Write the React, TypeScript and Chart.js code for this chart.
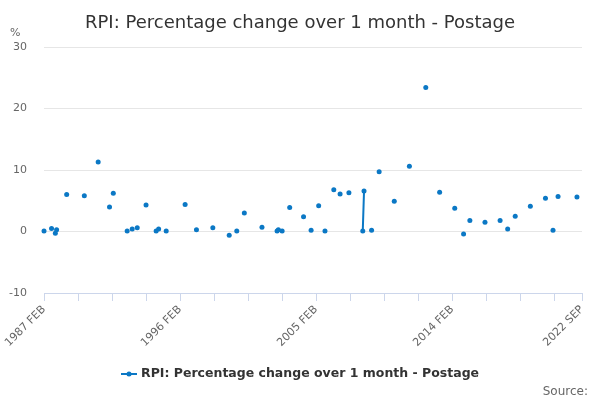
import React, { useEffect, useRef } from 'react';
import { Chart, registerables } from 'chart.js';

Chart.register(...registerables);

const TITLE = 'RPI: Percentage change over 1 month - Postage';
const MONTH_NAMES = ['JAN', 'FEB', 'MAR', 'APR', 'MAY', 'JUN', 'JUL', 'AUG', 'SEP', 'OCT', 'NOV', 'DEC'];

// every month on the axis, 1987 FEB .. 2022 SEP
const monthLabels: string[] = [];
for (let y = 1987; y <= 2022; y++) {
  for (let m = 0; m < 12; m++) {
    if (y === 1987 && m < 1) continue;
    if (y === 2022 && m > 8) break;
    monthLabels.push(`${y} ${MONTH_NAMES[m]}`);
  }
}

// months that have a value
const pointDates = [
  '1987 FEB', '1987 AUG', '1987 NOV', '1987 DEC', '1988 AUG', '1989 OCT', '1990 SEP',
  '1991 JUN', '1991 SEP', '1992 AUG', '1992 DEC', '1993 APR', '1993 NOV', '1994 JUL',
  '1994 SEP', '1995 MAR', '1996 JUN', '1997 MAR', '1998 APR', '1999 MAY', '1999 NOV',
  '2000 MAY', '2001 JUL', '2002 JUL', '2002 AUG', '2002 NOV', '2003 MAY', '2004 APR',
  '2004 OCT', '2005 APR', '2005 SEP', '2006 APR', '2006 SEP', '2007 APR', '2008 MAR',
  '2008 APR', '2008 OCT', '2009 APR', '2010 APR', '2011 APR', '2012 MAY', '2013 APR',
  '2014 APR', '2014 NOV', '2015 APR', '2016 APR', '2017 APR', '2017 OCT', '2018 APR',
  '2019 APR', '2020 APR', '2020 OCT', '2021 FEB', '2022 MAY',
];
const pointValues = [
  0.1, 0.5, -0.3, 0.3, 6.0, 5.8, 11.3,
  4.0, 6.2, 0.1, 0.4, 0.6, 4.3, 0.1,
  0.4, 0.1, 4.4, 0.3, 0.6, -0.6, 0.1,
  3.0, 0.7, 0.1, 0.3, 0.1, 3.9, 2.4,
  0.2, 4.2, 0.1, 6.8, 6.1, 6.3, 0.1,
  6.6, 0.2, 9.7, 4.9, 10.6, 23.4, 6.4,
  3.8, -0.4, 1.8, 1.5, 1.8, 0.4, 2.5,
  4.1, 5.4, 0.2, 5.7, 5.6,
];

const seriesValues = monthLabels.map((l) => {
  const i = pointDates.indexOf(l);
  return i >= 0 ? pointValues[i] : null;
});

const BLUE = '#0b78c5';
const FONT = '"DejaVu Sans", sans-serif';

const overlay = {
  id: 'overlay',
  afterDraw(chart: any) {
    const ctx = chart.ctx;
    ctx.save();
    // title
    ctx.fillStyle = '#333333';
    ctx.font = `18px ${FONT}`;
    ctx.textAlign = 'center';
    ctx.textBaseline = 'alphabetic';
    ctx.fillText(TITLE, 300, 27.5);
    // unit
    ctx.fillStyle = '#666666';
    ctx.font = `11px ${FONT}`;
    ctx.textAlign = 'left';
    ctx.fillText('%', 10, 35.5);
    // legend
    ctx.strokeStyle = BLUE;
    ctx.lineWidth = 2;
    ctx.beginPath();
    ctx.moveTo(121, 374);
    ctx.lineTo(137, 374);
    ctx.stroke();
    ctx.fillStyle = BLUE;
    ctx.beginPath();
    ctx.arc(129, 374, 2.5, 0, Math.PI * 2);
    ctx.fill();
    ctx.fillStyle = '#333333';
    ctx.font = `bold 12.5px ${FONT}`;
    ctx.textBaseline = 'middle';
    ctx.fillText(TITLE, 141, 374);
    // source
    ctx.fillStyle = '#666666';
    ctx.font = `12px ${FONT}`;
    ctx.textAlign = 'right';
    ctx.textBaseline = 'alphabetic';
    ctx.fillText('Source:', 588, 395);
    ctx.restore();
  },
};

const App = () => {
  const canvasRef = useRef<HTMLCanvasElement | null>(null);

  useEffect(() => {
    if (!canvasRef.current) return;
    const last = monthLabels.length - 1;
    const chart = new Chart(canvasRef.current, {
      type: 'line',
      data: {
        labels: monthLabels,
        datasets: [{
          label: TITLE,
          data: seriesValues,
          borderColor: BLUE,
          backgroundColor: BLUE,
          borderWidth: 2,
          pointRadius: 2.5,
          pointBorderWidth: 0,
          spanGaps: false,
        }],
      },
      options: {
        responsive: true,
        maintainAspectRatio: false,
        animation: false,
        layout: { padding: { top: 47, right: 18, left: 0, bottom: 0 } },
        plugins: {
          legend: { display: false },
          title: { display: false },
          tooltip: { enabled: false },
        },
        scales: {
          x: {
            type: 'category',
            afterFit: (s: any) => { s.height = 107; },
            border: { display: true, color: '#ccd6eb' },
            grid: {
              drawOnChartArea: false,
              drawTicks: true,
              tickLength: 8,
              color: (c: any) => (c.index % 27 === 0 || c.index === last ? '#ccd6eb' : 'rgba(0,0,0,0)'),
            },
            ticks: {
              autoSkip: false,
              minRotation: 45,
              maxRotation: 45,
              padding: 2,
              color: '#666666',
              font: { family: FONT, size: 11 },
              callback: (_v: any, i: number) => (i % 108 === 0 || i === last ? monthLabels[i] : ''),
            },
          },
          y: {
            min: -10,
            max: 30,
            afterFit: (s: any) => { s.width = 44; },
            border: { display: false },
            grid: { color: '#e6e6e6', drawTicks: false },
            ticks: {
              stepSize: 10,
              padding: 17,
              color: '#666666',
              font: { family: FONT, size: 11 },
            },
          },
        },
      },
      plugins: [overlay],
    });
    return () => chart.destroy();
  }, []);

  return (
    <div style={{ position: 'fixed', left: 0, top: 0, width: 600, height: 400, background: '#fff' }}>
      <canvas ref={canvasRef}></canvas>
    </div>
  );
};

export default App;
